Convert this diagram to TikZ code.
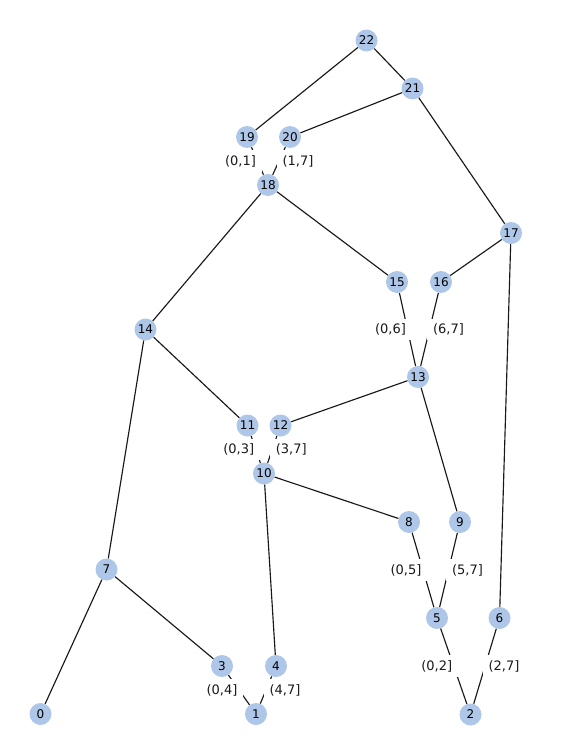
\documentclass[tikz,border=0pt]{standalone}
\usepackage{fontspec}
\setmainfont{DejaVu Sans}
\definecolor{nodeblue}{RGB}{174,199,232}
\begin{document}
\begin{tikzpicture}[x=1pt,y=-1pt,
  vtx/.style={circle,fill=nodeblue,minimum size=22pt,inner sep=0pt,font=\fontsize{12}{12}\selectfont},
  edg/.style={line width=1.15pt,black!90},
  lbl/.style={fill=white,inner xsep=6pt,inner ysep=5pt,font=\fontsize{13}{13}\selectfont},
  lleft/.style={lbl,pos=0.5,anchor=east,xshift=5pt},
  lright/.style={lbl,pos=0.5,anchor=west,xshift=-3pt}]
\useasboundingbox (0,0) rectangle (588,754);
\node[vtx] (n22) at (366.5,40.5) {22};
\node[vtx] (n21) at (412.5,88.5) {21};
\node[vtx] (n19) at (247,137) {19};
\node[vtx] (n20) at (290,137) {20};
\node[vtx] (n18) at (268,185) {18};
\node[vtx] (n17) at (511,233) {17};
\node[vtx] (n15) at (397,282) {15};
\node[vtx] (n16) at (441,282) {16};
\node[vtx] (n14) at (145.5,329.5) {14};
\node[vtx] (n13) at (418,377) {13};
\node[vtx] (n11) at (247.5,425.5) {11};
\node[vtx] (n12) at (280.5,425.5) {12};
\node[vtx] (n10) at (264,473.5) {10};
\node[vtx] (n8) at (409,522) {8};
\node[vtx] (n9) at (460,522) {9};
\node[vtx] (n7) at (106.5,569.5) {7};
\node[vtx] (n5) at (437,618) {5};
\node[vtx] (n6) at (499.5,618) {6};
\node[vtx] (n3) at (222,666) {3};
\node[vtx] (n4) at (276,666) {4};
\node[vtx] (n1) at (256,714) {1};
\node[vtx] (n0) at (40.5,714) {0};
\node[vtx] (n2) at (470.5,714.5) {2};
% edges without labels
\draw[edg] (n22) -- (n19);
\draw[edg] (n22) -- (n21);
\draw[edg] (n21) -- (n20);
\draw[edg] (n21) -- (n17);
\draw[edg] (n18) -- (n14);
\draw[edg] (n18) -- (n15);
\draw[edg] (n17) -- (n16);
\draw[edg] (n17) -- (n6);
\draw[edg] (n14) -- (n11);
\draw[edg] (n14) -- (n7);
\draw[edg] (n13) -- (n12);
\draw[edg] (n13) -- (n9);
\draw[edg] (n10) -- (n8);
\draw[edg] (n10) -- (n4);
\draw[edg] (n7) -- (n0);
\draw[edg] (n7) -- (n3);
% labelled edges
\draw[edg] (n19) -- node[lleft] (l19) {(0,1]} (n18);
\draw[edg] (n20) -- node[lright] (l20) {(1,7]} (n18);
\draw[edg] (n15) -- node[lleft] (l15) {(0,6]} (n13);
\draw[edg] (n16) -- node[lright] (l16) {(6,7]} (n13);
\draw[edg] (n11) -- node[lleft] (l11) {(0,3]} (n10);
\draw[edg] (n12) -- node[lright] (l12) {(3,7]} (n10);
\draw[edg] (n8) -- node[lleft] (l8) {(0,5]} (n5);
\draw[edg] (n9) -- node[lright] (l9) {(5,7]} (n5);
\draw[edg] (n5) -- node[lleft] (l5) {(0,2]} (n2);
\draw[edg] (n6) -- node[lright] (l6) {(2,7]} (n2);
\draw[edg] (n3) -- node[lleft] (l3) {(0,4]} (n1);
\draw[edg] (n4) -- node[lright] (l4) {(4,7]} (n1);
\end{tikzpicture}
\end{document}
